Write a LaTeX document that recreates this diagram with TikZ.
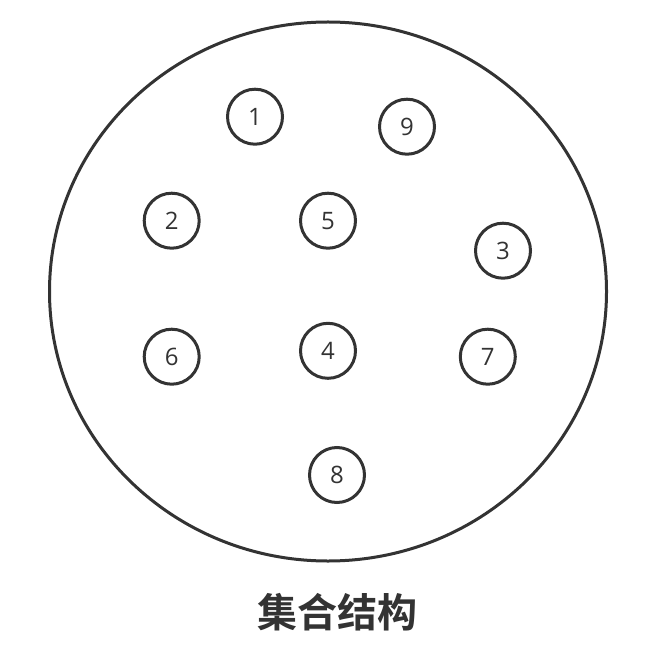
\documentclass[tikz,border=0pt]{standalone}
\usepackage{fontspec}
\setmainfont{Open Sans}
\newfontfamily\cjk{Noto Sans CJK SC}[BoldFont={Noto Sans CJK SC Bold}]
\definecolor{ink}{HTML}{333333}
\begin{document}
\begin{tikzpicture}[x=1pt,y=-1pt,
  elem/.style={circle,draw=ink,line width=3pt,minimum size=55pt,inner sep=0pt,
    text=ink,font=\fontsize{24}{24}\selectfont},
  setline/.style={draw=ink,line width=3pt}]
\useasboundingbox (0,0) rectangle (652,652);
\draw[setline] (328,291.5) ellipse [x radius=278.5, y radius=269.5];
\node[elem] (n1) at (255,116.7) {1};
\node[elem] (n9) at (407,126.7) {9};
\node[elem] (n2) at (171.7,220.7) {2};
\node[elem] (n5) at (328,220.7) {5};
\node[elem] (n3) at (503,250.7) {3};
\node[elem] (n6) at (171.7,356.7) {6};
\node[elem] (n4) at (328,350.8) {4};
\node[elem] (n7) at (487.8,356.7) {7};
\node[elem] (n8) at (337,475) {8};
\node[text=ink,font=\cjk\bfseries\fontsize{40}{40}\selectfont] (title) at (337,612) {集合结构};
\end{tikzpicture}
\end{document}
